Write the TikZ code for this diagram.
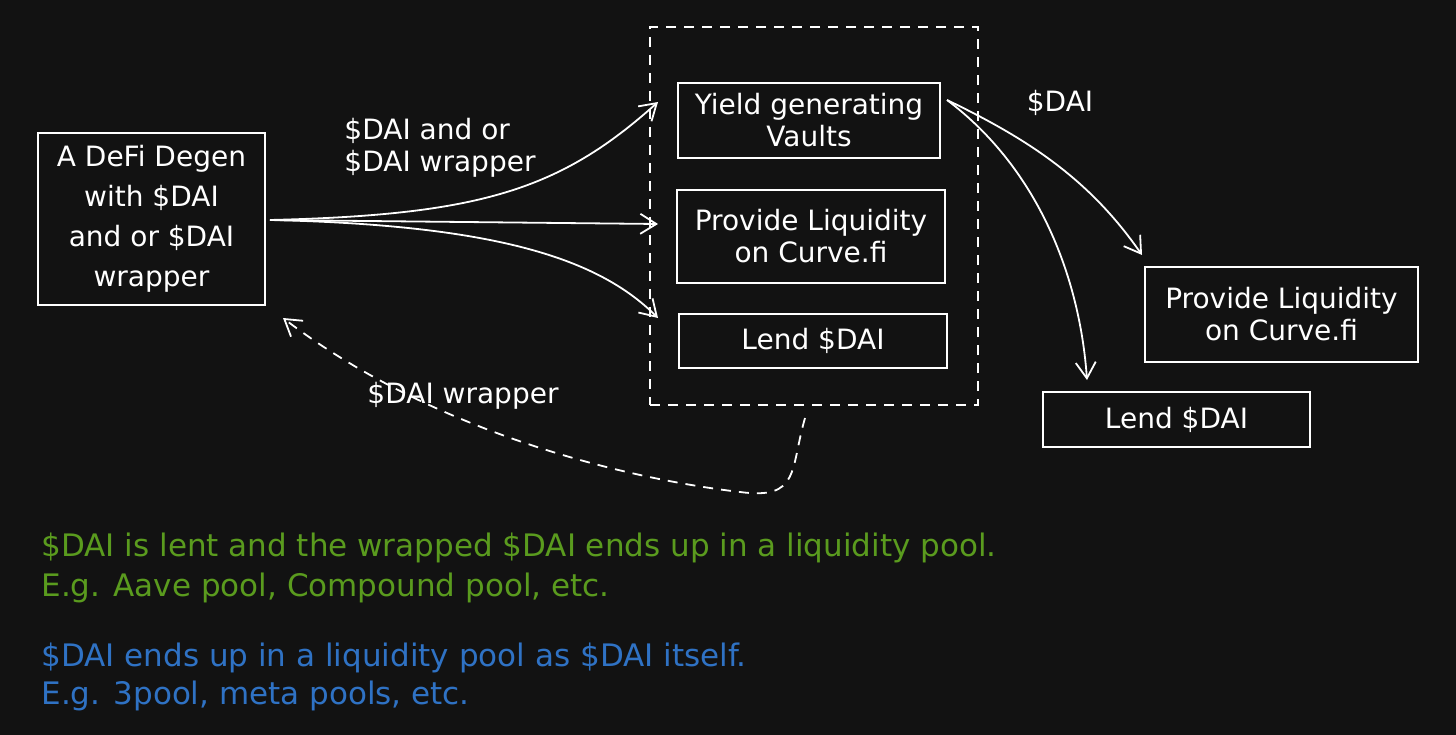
\documentclass[tikz,border=0pt]{standalone}
\usepackage{fontspec}
\setmainfont{DejaVu Sans}
\usetikzlibrary{arrows.meta}
\definecolor{bg}{HTML}{121212}
\definecolor{grn}{HTML}{5A9B1E}
\definecolor{blu}{HTML}{2F72C4}
\begin{document}
\begin{tikzpicture}[x=1pt,y=-1pt,
  box/.style={draw=white,line width=2pt,text=white,align=center,font=\fontsize{28}{40}\selectfont},
  lbl/.style={text=white,align=left,font=\fontsize{28}{40}\selectfont},
  note/.style={anchor=west,font=\fontsize{31}{34}\selectfont},
  arr/.style={draw=white,line width=1.8pt,-{Straight Barb[length=16pt,width=20pt]}}]
\useasboundingbox[fill=bg] (0,0) rectangle (1456,735);
\node[box,minimum width=227pt,minimum height=172pt,inner sep=0pt] (degen) at (151.5,219) {A DeFi Degen\\with \$DAI\\and or \$DAI\\wrapper};
\node[draw=white,line width=2pt,dash pattern=on 10pt off 8pt,minimum width=328pt,minimum height=378pt] (cont) at (814,216) {};
\node[box,minimum width=262pt,minimum height=75pt,inner sep=0pt] (yield) at (809,120.5) {Yield generating\\[-8pt]Vaults};
\node[box,minimum width=268pt,minimum height=93pt,inner sep=0pt] (prov) at (811,236.5) {Provide Liquidity\\[-8pt]on Curve.fi};
\node[box,minimum width=268pt,minimum height=54pt] (lend) at (813,341) {Lend \$DAI};
\node[box,minimum width=273pt,minimum height=95pt,inner sep=0pt] (rprov) at (1281.5,314.5) {Provide Liquidity\\[-8pt]on Curve.fi};
\node[box,minimum width=267pt,minimum height=55pt] (rlend) at (1176.5,419.5) {Lend \$DAI};
\node[lbl] (l1) at (440,148) {\$DAI and or\\[-8pt]\$DAI wrapper};
\node[lbl] (l2) at (463,396) {\$DAI wrapper};
\node[lbl] (l3) at (1060,103) {\$DAI};
\coordinate (s) at (270,220);
\draw[arr] (s) .. controls (480,215) and (560,190) .. (658,102);
\draw[arr] (s) -- (658,224);
\draw[arr] (s) .. controls (500,225) and (600,260) .. (658,318);
\coordinate (y) at (947,100);
\draw[arr] (y) .. controls (1030,140) and (1090,180) .. (1142,255);
\draw[arr] (y) .. controls (1040,170) and (1080,280) .. (1087,380);
\draw[white,line width=1.8pt,dash pattern=on 10pt off 8pt,-{Straight Barb[length=16pt,width=20pt]}] (805,418) .. controls (790,470) and (800,500) .. (740,492) .. controls (620,478) and (430,430) .. (283,318);
\node[note,text=grn] (g1) at (38,548) {\$DAI is lent and the wrapped \$DAI ends up in a liquidity pool.};
\node[note,text=grn] (g2) at (38,588) {E.g. Aave pool, Compound pool, etc.};
\node[note,text=blu] (b1) at (38,658) {\$DAI ends up in a liquidity pool as \$DAI itself.};
\node[note,text=blu] (b2) at (38,696) {E.g. 3pool, meta pools, etc.};
\end{tikzpicture}
\end{document}
